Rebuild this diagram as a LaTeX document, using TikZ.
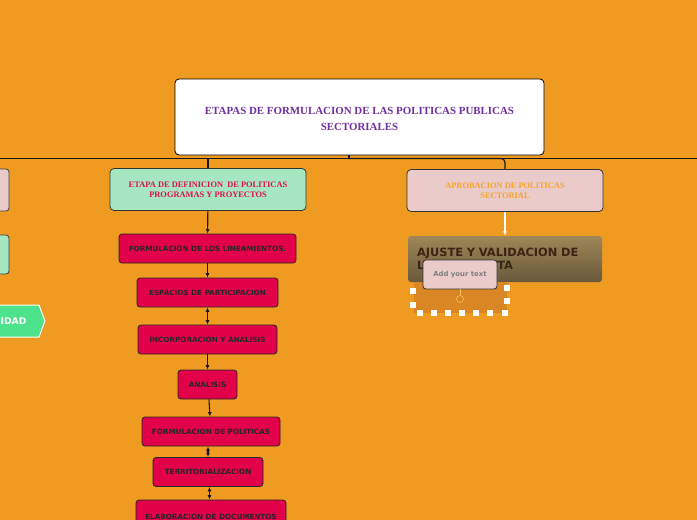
\documentclass[tikz,border=0pt]{standalone}
\usepackage{fontspec}
\setmainfont{Liberation Serif}
\newfontfamily\boxsans{DejaVu Sans}
\usetikzlibrary{positioning,arrows.meta,shapes}

\definecolor{mapbg}{RGB}{239,155,33}
\definecolor{stepred}{RGB}{226,0,75}
\definecolor{mintfill}{RGB}{166,230,192}
\definecolor{rosefill}{RGB}{235,202,202}
\definecolor{titlepurple}{RGB}{112,48,160}
\definecolor{etapared}{RGB}{224,16,79}
\definecolor{aprobtext}{RGB}{245,166,35}
\definecolor{ajustetop}{RGB}{158,135,87}
\definecolor{ajustebot}{RGB}{105,88,60}
\definecolor{ajustetext}{RGB}{60,36,20}
\definecolor{hexgreen}{RGB}{77,227,140}
\definecolor{selbg}{RGB}{217,135,36}
\definecolor{knob}{RGB}{248,192,96}

\tikzset{
  chainbox/.style={rectangle,rounded corners=3pt,draw=black!85,line width=0.8pt,fill=stepred,
    font=\boxsans\bfseries\fontsize{7.2}{9}\selectfont,text=black!85,minimum height=29pt,inner sep=2pt},
  stagebox/.style={rectangle,rounded corners=4pt,draw=black!80,line width=0.8pt,minimum height=42pt,
    minimum width=196pt,align=center,font=\bfseries\fontsize{8.4}{10}\selectfont},
  flow/.style={-{Latex[length=4.5pt,width=4pt]},line width=1.1pt,black!90},
  flowboth/.style={{Latex[length=4.5pt,width=4pt]}-{Latex[length=4.5pt,width=4pt]},line width=1.1pt,black!90},
  bus/.style={line width=1.1pt,black!90},
}

\begin{document}
\begin{tikzpicture}[x=1pt,y=-1pt]
    \useasboundingbox (0,0) rectangle (697,520);
    \clip (0,0) rectangle (697,520);
    \fill[mapbg] (0,0) rectangle (697,520);

    % Title
    \node[rectangle,rounded corners=4pt,draw=black,line width=0.8pt,fill=white,minimum width=369pt,minimum height=76pt] (title) at (359.5,117) {};
    \node[align=center,text=titlepurple,font=\bfseries\fontsize{10.9}{16}\selectfont] (titletext) at (359.5,119)
      {ETAPAS DE FORMULACION DE LAS POLITICAS PUBLICAS\\SECTORIALES};

    % Bus line
    \coordinate (busL) at (0,158.5);
    \coordinate (busR) at (697,158.5);
    \coordinate (hub) at (349,158.5);
    \draw[bus] (busL) -- (busR);
    \draw[bus] (hub |- title.south) -- (hub);

    % Boxes cut at the left edge
    \node[rectangle,rounded corners=3pt,draw=black!75,line width=0.8pt,fill=rosefill,minimum width=30pt,minimum height=42pt] (offpink) at (-6,190) {};
    \node[rectangle,rounded corners=3pt,draw=black!75,line width=0.8pt,fill=mintfill,minimum width=30pt,minimum height=39pt] (offgreen) at (-6,254.5) {};
    \draw[draw=white,line width=1pt,fill=hexgreen] (-5,305) -- (39,305) -- (45,321) -- (39,337) -- (-5,337) -- cycle;
    \node[text=white,font=\boxsans\bfseries\fontsize{9.2}{11}\selectfont] (sust) at (13.5,321.5) {IDAD};

    % Stages
    \node[stagebox,fill=mintfill,text=etapared] (etapa) at (208,189.5) {ETAPA DE DEFINICION\ \ DE POLITICAS\\PROGRAMAS Y PROYECTOS};
    \node[stagebox,fill=rosefill,text=aprobtext] (aprob) at (505,190.5) {APROBACION DE POLITICAS\\SECTORIAL};
    \draw[bus] (etapa.north |- busL) -- (etapa.north);
    \draw[bus,rounded corners=4pt] (hub) -- (aprob.north |- busL) -- (aprob.north);

    % Definition chain
    \node[chainbox,minimum width=177pt] (lineam) at (207.5,248.5) {FORMULACION DE LOS LINEAMIENTOS.};
    \node[chainbox,minimum width=141pt] (espacios) at (207.5,292.5) {ESPACIOS DE PARTICIPACION};
    \node[chainbox,minimum width=139pt] (incorp) at (207.5,339.5) {INCORPORACION Y ANALISIS};
    \node[chainbox,minimum width=59pt] (analisis) at (207.5,384.5) {ANALISIS};
    \node[chainbox,minimum width=138pt] (formpol) at (211,431.5) {FORMULACION DE POLITICAS};
    \node[chainbox,minimum width=110pt] (territ) at (208,472) {TERRITORIALIZACION};
    \node[chainbox,minimum width=150pt,minimum height=34pt] (elabor) at (211,517) {ELABORACION DE DOCUMENTOS};

    \draw[flow] (etapa) -- (lineam);
    \draw[flow] (lineam) -- (espacios);
    \draw[flowboth] (espacios) -- (incorp);
    \draw[flow] (incorp) -- (analisis);
    \draw[flow] ([xshift=1.5pt]analisis.south) -- ([xshift=-1pt]formpol.north);
    \draw[flowboth] ([xshift=-3pt]formpol.south) -- (territ.north);
    \draw[flowboth] ([xshift=1.5pt]territ.south) -- ([xshift=-1.5pt]elabor.north);

    % Approval branch
    \node[rectangle,rounded corners=3pt,top color=ajustetop,bottom color=ajustebot,minimum width=194pt,minimum height=46pt,
      text width=176pt,align=left,text=ajustetext,font=\boxsans\bfseries\fontsize{11.4}{13}\selectfont] (ajuste) at (505,259)
      {AJUSTE Y VALIDACION DE\\LA PROPUESTA};
    \draw[-{Latex[length=4.5pt,width=4pt]},white,line width=1.1pt] (aprob) -- (ajuste);

    % Editing placeholder
    \fill[selbg] (414,282) rectangle (507,313);
    \foreach \sx/\sy in {413/291,413/305,420/313,434/313,448/313,462/313,476/313,490/313,505/313,507/288,507/301}
      \fill[white] (\sx-3,\sy-3) rectangle (\sx+3,\sy+3);
    \node[rectangle,rounded corners=3pt,draw=black!80,line width=0.8pt,fill=rosefill,minimum width=74pt,minimum height=29pt,
      text=black!50,font=\boxsans\bfseries\fontsize{6.9}{8}\selectfont] (addtext) at (460,274.5) {Add your text};
    \node[circle,draw=knob,line width=0.6pt,minimum size=7pt,inner sep=0pt] (addknob) at (460,299) {};
    \draw[knob,line width=0.6pt] (addtext) -- (addknob);
\end{tikzpicture}
\end{document}
